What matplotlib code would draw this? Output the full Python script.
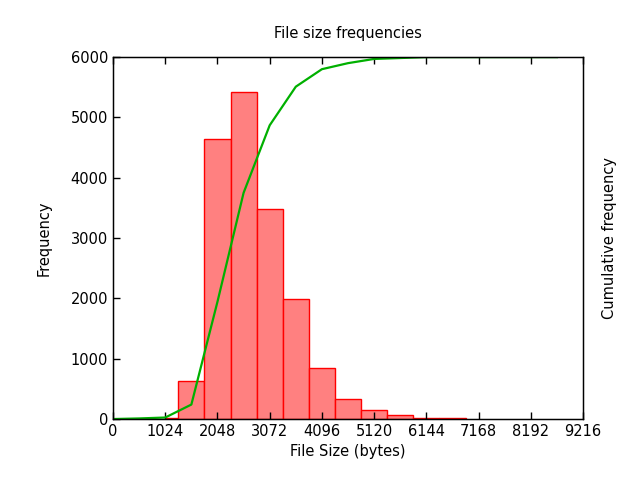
import matplotlib
matplotlib.use("Agg")
import matplotlib.pyplot as plt

# histogram bins (bytes) and counts
bin_left = [1024, 1280, 1792, 2304, 2816, 3328, 3840, 4352, 4864, 5376, 5888, 6400]
bin_right = [1280, 1792, 2304, 2816, 3328, 3840, 4352, 4864, 5376, 5888, 6400, 6912]
counts = [25, 630, 4650, 5415, 3490, 1985, 840, 330, 150, 60, 20, 10]

# cumulative curve, in the left axis units
cum_x = [0, 512, 1024, 1536, 2048, 2560, 3072, 3584, 4096, 4608, 5120, 5632, 6144, 6656, 7168, 7680, 8192, 8704]
cum_y = [0, 10, 25, 240, 1945, 3750, 4870, 5510, 5800, 5900, 5970, 5985, 6000, 6000, 6000, 6000, 6000, 6000]

xticks = [0, 1024, 2048, 3072, 4096, 5120, 6144, 7168, 8192, 9216]

plt.rcParams['font.size'] = 10.5
fig = plt.figure(figsize=(6.4, 4.8), dpi=100)
ax = fig.add_axes([0.1766, 0.127, 0.7344, 0.754])

widths = [r - l for l, r in zip(bin_left, bin_right)]
ax.bar(bin_left, counts, width=widths, align='edge', color='#ff8080',
       edgecolor='#ff0000', linewidth=1)
ax.plot(cum_x, cum_y, color='#00b000', linewidth=1.6)

ax.set_xlim(0, 9216)
ax.set_ylim(0, 6000)
ax.set_xticks(xticks)
ax.set_yticks(range(0, 6001, 1000))
ax.tick_params(direction='in', top=True, right=True, length=5, width=1)
for s in ax.spines.values():
    s.set_linewidth(1)

ax.set_title("File size frequencies", fontsize=10.5, pad=14)
ax.set_xlabel("File Size (bytes)")
ax.set_ylabel("Frequency", labelpad=14)
ax2 = ax.twinx()
ax2.set_yticks([])
ax2.set_ylabel("Cumulative frequency", labelpad=14)

fig.savefig("out.png")
